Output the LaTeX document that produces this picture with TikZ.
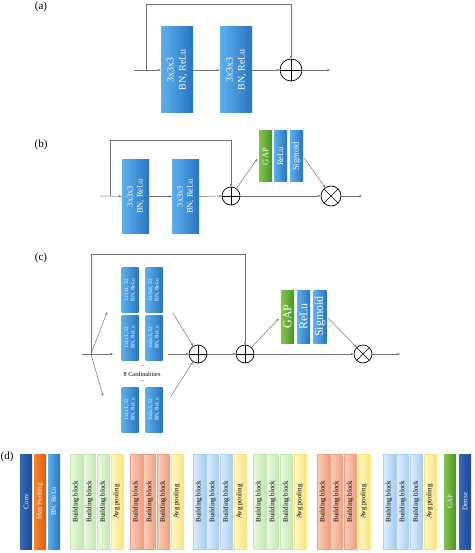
\documentclass[tikz,border=0pt]{standalone}
\usepackage{fontspec}
\setmainfont{Liberation Serif}
\usetikzlibrary{arrows.meta}

\newcommand{\fsz}[2]{\fontsize{#1}{#2}\selectfont}

\definecolor{blkL}{RGB}{92,176,238}
\definecolor{blkD}{RGB}{40,116,194}
\definecolor{gapL}{RGB}{132,198,74}
\definecolor{gapD}{RGB}{72,148,38}
\definecolor{convL}{RGB}{52,104,186}
\definecolor{convD}{RGB}{30,72,150}
\definecolor{mpL}{RGB}{246,134,44}
\definecolor{mpD}{RGB}{220,92,16}
\definecolor{grnL}{RGB}{232,249,224}
\definecolor{grnD}{RGB}{196,232,180}
\definecolor{orgL}{RGB}{252,206,186}
\definecolor{orgD}{RGB}{240,160,128}
\definecolor{bluL}{RGB}{222,238,252}
\definecolor{bluD}{RGB}{168,206,242}
\definecolor{ylwL}{RGB}{255,250,200}
\definecolor{ylwD}{RGB}{250,228,130}

\tikzset{
  ln/.style={draw=black!55, line width=0.5pt, -{Stealth[length=3pt,width=2.4pt]}},
  plain/.style={draw=black!55, line width=0.5pt},
  tag/.style={font=\fsz{11}{11}},
  blk/.style={rotate=90, inner sep=0pt, align=center, text=white, left color=blkL, right color=blkD},
  gapbox/.style={blk, left color=gapL, right color=gapD},
  sum/.style={circle, draw, line width=0.7pt, inner sep=0pt, fill=white,
    path picture={\draw[line width=0.6pt] (path picture bounding box.north) -- (path picture bounding box.south)
      (path picture bounding box.west) -- (path picture bounding box.east);}},
  prod/.style={circle, draw, line width=0.7pt, inner sep=0pt, fill=white,
    path picture={\draw[line width=0.6pt] (path picture bounding box.north west) -- (path picture bounding box.south east)
      (path picture bounding box.north east) -- (path picture bounding box.south west);}},
  bar/.style={rotate=90, inner sep=0pt, minimum width=95pt, minimum height=12pt, align=center, font=\fsz{7}{7}},
}

\begin{document}
\begin{tikzpicture}[x=1pt,y=-1pt]
    \useasboundingbox (0,0) rectangle (474,553);

    \node[tag] (la) at (41,7) {(a)};
    \coordinate (ina) at (134,70);
    \coordinate (ska) at (146,70);
    \node[blk, minimum width=86pt, minimum height=32pt, font=\fsz{10}{12}] (a1) at (177,70) {3x3x3\\BN, ReLu};
    \node[blk, minimum width=86pt, minimum height=32pt, font=\fsz{10}{12}] (a2) at (236,70) {3x3x3\\BN, ReLu};
    \node[sum, minimum size=22pt] (sa) at (291,70) {};
    \coordinate (outa) at (330,70);
    \draw[ln] (ina) -- (a1);
    \draw[ln] (a1) -- (a2);
    \draw[ln] (a2) -- (sa);
    \draw[ln] (sa) -- (outa);
    \draw[ln] (ska) -- ++(0,-66) -| (sa);

    \node[tag] (lb) at (41,145) {(b)};
    \coordinate (inb) at (100,196);
    \coordinate (skb) at (110,196);
    \node[blk, minimum width=73pt, minimum height=27pt, font=\fsz{8.5}{10}] (b1) at (135.5,196.5) {3x3x3\\BN, ReLu};
    \node[blk, minimum width=73pt, minimum height=27pt, font=\fsz{8.5}{10}] (b2) at (185.5,196.5) {3x3x3\\BN, ReLu};
    \node[sum, minimum size=18pt] (sb) at (231,196) {};
    \node[gapbox, minimum width=51pt, minimum height=13pt, font=\fsz{8.5}{8.5}] (gb) at (265.5,156.5) {GAP};
    \node[blk, minimum width=51pt, minimum height=13pt, font=\fsz{8.5}{8.5}] (rb) at (280.5,156.5) {ReLu};
    \node[blk, minimum width=51pt, minimum height=13pt, font=\fsz{8.5}{8.5}] (gsb) at (296.5,156.5) {Sigmoid};
    \node[prod, minimum size=20pt] (mb) at (331,196) {};
    \coordinate (outb) at (362,196);
    \draw[ln] (inb) -- (b1);
    \draw[ln] (b1) -- (b2);
    \draw[ln] (b2) -- (sb);
    \draw[ln] (skb) -- ++(0,-56) -| (sb);
    \draw[ln, shorten >=3pt] (sb) -- (gb.north);
    \draw[ln] (sb) -- (mb);
    \draw[ln, shorten <=2pt] (gsb.south) -- (mb);
    \draw[ln] (mb) -- (outb);

    \node[tag] (lc) at (41,258) {(c)};
    \coordinate (inc) at (82,354);
    \coordinate (spc) at (91,354);
    \coordinate (tc1) at (107,312);
    \coordinate (tc2) at (113,354);
    \coordinate (tc3) at (103,396);
    \foreach \r/\y in {1/290, 2/337.5, 3/409.5} {
        \node[blk, minimum width=45pt, minimum height=17pt, font=\fsz{5.5}{6.5}] (c\r a) at (130,\y) {1x1x1, 32\\BN, ReLu};
        \node[blk, minimum width=45pt, minimum height=17pt, font=\fsz{5.5}{6.5}] (c\r b) at (154,\y) {3x3x3, 32\\BN, ReLu};
    }
    \node[font=\fsz{6}{6}, inner sep=0pt] (dc1) at (142,366) {...};
    \node[font=\fsz{6.3}{6.3}, inner sep=0pt] (card) at (142,374) {8 Cardinalities};
    \node[font=\fsz{6}{6}, inner sep=0pt] (dc2) at (142,381) {...};
    \coordinate (fc1) at (173,313);
    \coordinate (fc2) at (168,354);
    \coordinate (fc3) at (171,396);
    \node[sum, minimum size=18pt] (sc1) at (198,354) {};
    \node[sum, minimum size=18pt] (sc2) at (245,354) {};
    \node[gapbox, minimum width=53pt, minimum height=13pt, font=\fsz{12}{12}] (gc) at (287.5,316.5) {GAP};
    \node[blk, minimum width=53pt, minimum height=13pt, font=\fsz{12}{12}] (rc) at (303.5,316.5) {ReLu};
    \node[blk, minimum width=53pt, minimum height=13pt, font=\fsz{12}{12}] (gsc) at (320,316.5) {Sigmoid};
    \node[prod, minimum size=18pt] (mc) at (363,354) {};
    \coordinate (outc) at (400,354);
    \draw[plain] (inc) -- (spc);
    \draw[ln] (spc) -- (tc1);
    \draw[ln] (spc) -- (tc2);
    \draw[ln] (spc) -- (tc3);
    \draw[ln] (fc1) -- (sc1);
    \draw[ln] (fc2) -- (sc1);
    \draw[ln] (fc3) -- (sc1);
    \draw[ln] (sc1) -- (sc2);
    \draw[ln] (spc) -- ++(0,-100) -| (sc2);
    \draw[ln, shorten >=3pt] (sc2) -- (gc.north);
    \draw[ln] (sc2) -- (mc);
    \draw[ln, shorten <=2pt] (gsc.south) -- (mc);
    \draw[ln] (mc) -- (outc);

    \node[tag] (ld) at (7,457) {(d)};
    \node[bar, text=white, left color=convL, right color=convD] (conv) at (26,501.5) {Conv};
    \node[bar, text=white, left color=mpL, right color=mpD] (mpool) at (40,501.5) {Max Pooling};
    \node[bar, text=white, left color=blkL, right color=blkD] (bnr) at (54,501.5) {BN, ReLu};
    \foreach \g/\x/\cl/\cd in {1/70/grnL/grnD, 2/130/orgL/orgD, 3/193/bluL/bluD, 4/253/grnL/grnD, 5/317/orgL/orgD, 6/383/bluL/bluD} {
        \foreach \i in {0,1,2}
            \node[bar, left color=\cl, right color=\cd, draw=\cd] (d\g\i) at ({\x+6+13.6*\i},501.5) {Building block};
        \node[bar, left color=ylwL, right color=ylwD, draw=ylwD] (d\g p) at ({\x+6+13.6*3},501.5) {Avg pooling};
    }
    \node[bar, text=white, left color=gapL, right color=gapD] (gd) at (450,501.5) {GAP};
    \node[bar, text=white, left color=convL, right color=convD] (dense) at (465,501.5) {Dense};

\end{tikzpicture}
\end{document}
